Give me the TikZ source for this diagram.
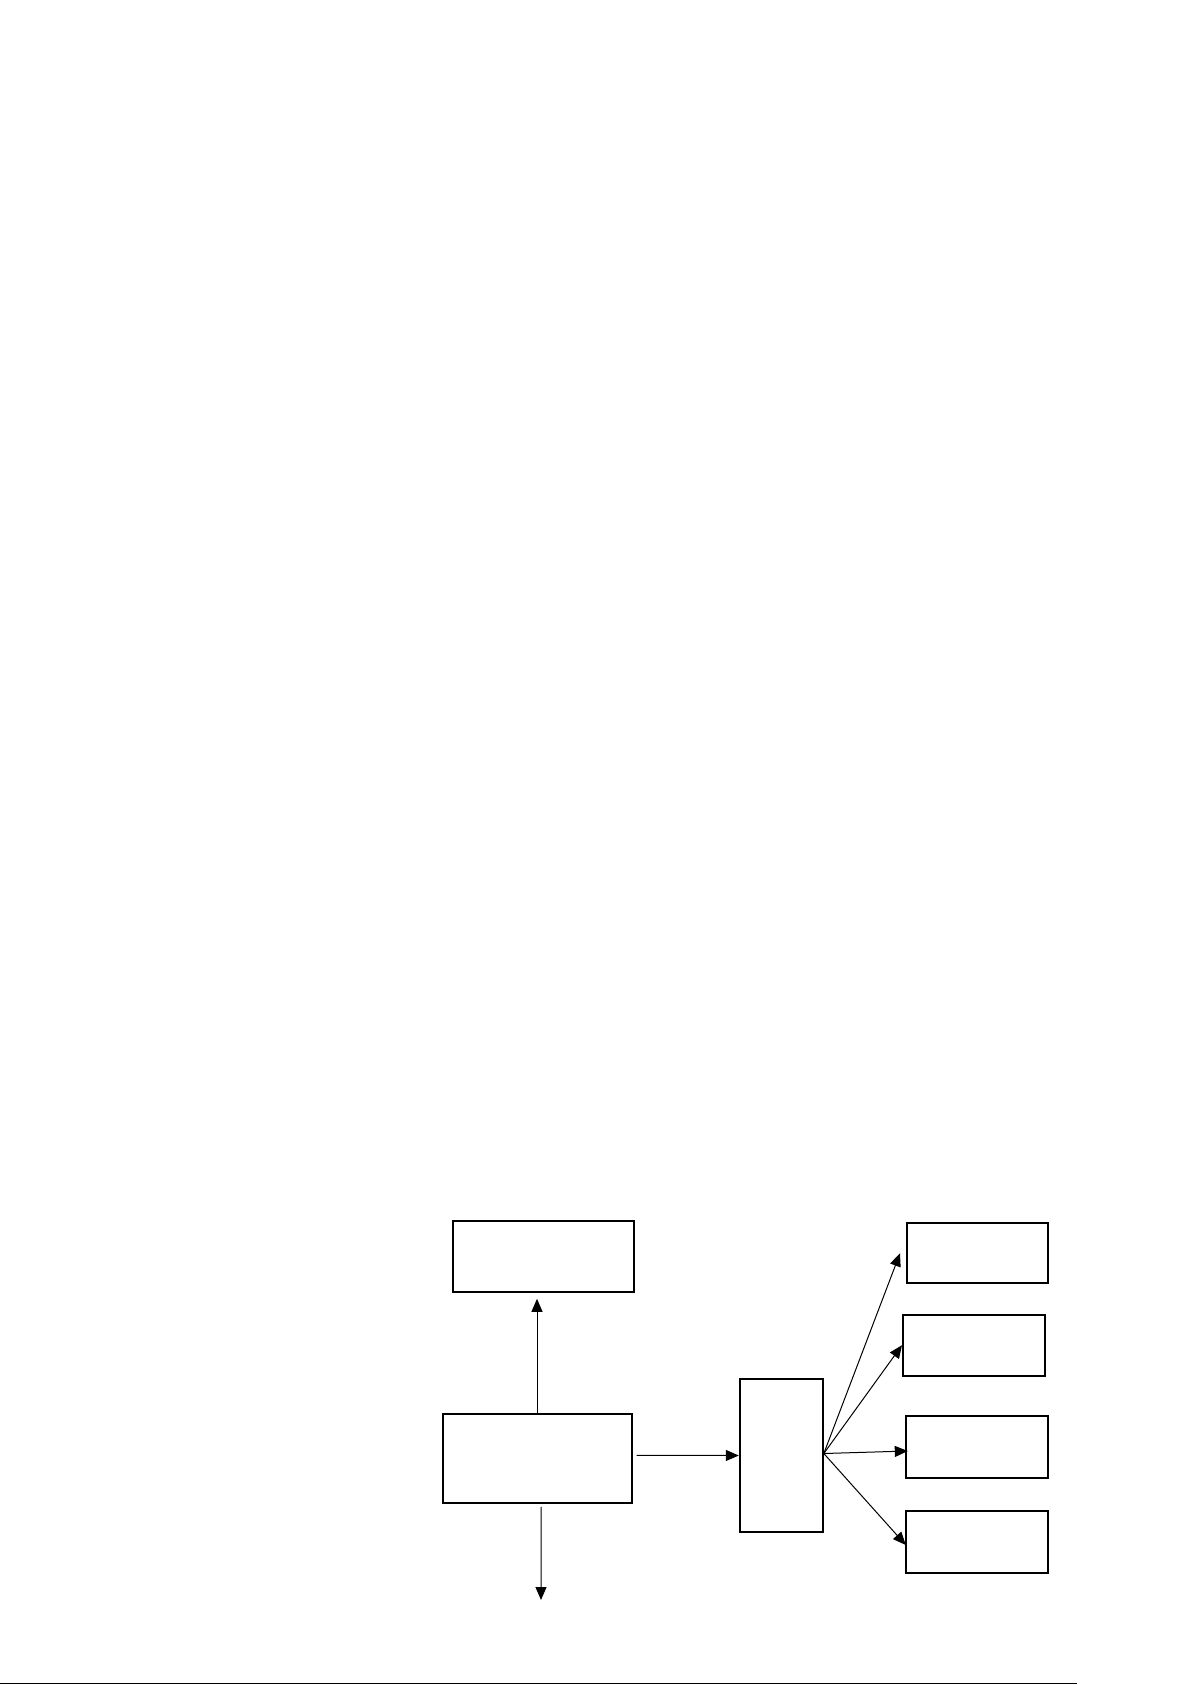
\documentclass[tikz,border=0pt]{standalone}
\usetikzlibrary{arrows.meta,calc}
\begin{document}
\begin{tikzpicture}[x=1bp,y=-1bp,
  boxnode/.style={draw,rectangle,line width=2bp,inner sep=0pt,minimum width=#1},
  arr/.style={-{Triangle[length=13bp,width=11bp]},line width=1bp}]
\useasboundingbox (0,0) rectangle (1192,1685);
\node[boxnode=181bp,minimum height=71bp] (T) at (543,1256.3) {};
\node[boxnode=189bp,minimum height=89bp] (M) at (537,1458.3) {};
\node[boxnode=83bp,minimum height=153bp] (C) at (781.3,1455.5) {};
\node[boxnode=141bp,minimum height=60bp] (R1) at (977.5,1253.3) {};
\node[boxnode=142bp,minimum height=61bp] (R2) at (974,1345.2) {};
\node[boxnode=142bp,minimum height=62bp] (R3) at (976.8,1447) {};
\node[boxnode=142bp,minimum height=62bp] (R4) at (976.8,1542) {};
\coordinate (Dend) at (541,1600);
\coordinate (F) at ([yshift=2bp]C.east);
\coordinate (L1) at (0,1683.5);
\coordinate (L2) at (1077,1683.5);
\draw[arr] (M.north) -- ($(M.north |- T.south)+(0,6)$);
\draw[arr] ([xshift=4bp,yshift=-3bp]M.south) -- (Dend);
\draw[arr] ([xshift=4bp,yshift=3bp]M.east) -- (C.west);
\draw[arr] (F) -- ([xshift=-6bp]R1.west);
\draw[arr] (F) -- (R2.west);
\draw[arr] (F) -- ([xshift=3bp,yshift=-4bp]R3.west);
\draw[arr] (F) -- ([xshift=1bp,yshift=-3bp]R4.west);
\draw[line width=1.3bp] (L1) -- (L2);
\end{tikzpicture}
\end{document}
